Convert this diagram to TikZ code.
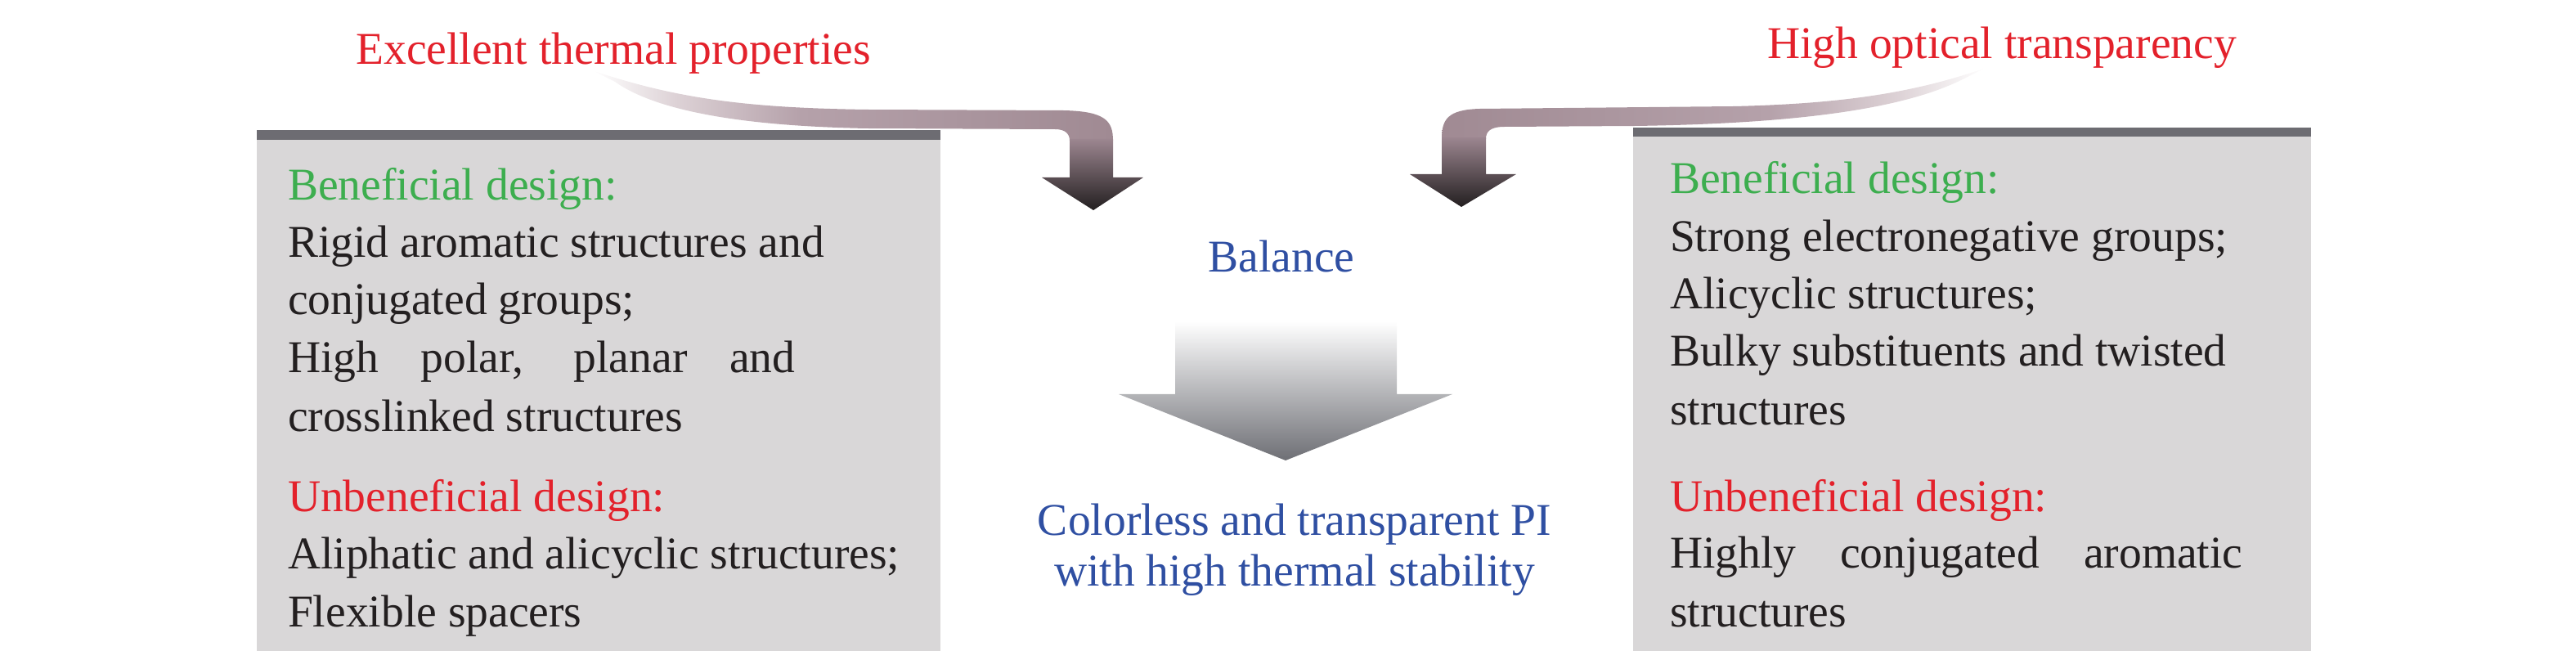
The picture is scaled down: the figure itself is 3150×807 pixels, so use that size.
\documentclass[tikz,border=0pt]{standalone}
\usepackage{fontspec}
\setmainfont{Liberation Serif}
\definecolor{tred}{HTML}{E3212B}
\definecolor{tgreen}{HTML}{3DAE4F}
\definecolor{tblue}{HTML}{2F4FA2}
\definecolor{tblack}{HTML}{231F20}
\definecolor{boxgray}{HTML}{D9D7D8}
\definecolor{bargray}{HTML}{6D6C72}
\definecolor{mauve}{HTML}{A08A93}
\definecolor{mauvemid}{HTML}{B5A1AA}
\definecolor{mauvelight}{HTML}{DDD2D6}
\definecolor{shafttop}{HTML}{9C8690}
\definecolor{shaftmid}{HTML}{4A4044}
\definecolor{arrowgraymid}{HTML}{BBBBBD}
\definecolor{arrowgraybot}{HTML}{6E6F75}
\pgfdeclarehorizontalshading{bandLshade}{100bp}{color(0bp)=(white); color(25bp)=(white);
  color(33bp)=(mauvelight); color(45bp)=(mauvemid); color(75bp)=(mauve); color(100bp)=(mauve)}
\pgfdeclarehorizontalshading{bandRshade}{100bp}{color(0bp)=(mauve); color(25bp)=(mauve);
  color(55bp)=(mauvemid); color(67bp)=(mauvelight); color(75bp)=(white); color(100bp)=(white)}
\begin{document}
\begin{tikzpicture}[x=0.01cm,y=-0.01cm,
  txt/.style={inner sep=0pt, outer sep=0pt, anchor=base west,
    font=\fontsize{15.8pt}{20pt}\selectfont, text=tblack},
  ctxt/.style={txt, anchor=base},
  boxbg/.style={fill=boxgray},
  boxbar/.style={fill=bargray},
  bandL/.style={shading=bandLshade},
  bandR/.style={shading=bandRshade},
  shaftshade/.style={top color=shafttop, middle color=shaftmid, bottom color=tblack},
  bigshade/.style={top color=white, middle color=arrowgraymid, bottom color=arrowgraybot}]
\useasboundingbox (0,0) rectangle (3150,807);

% boxes
\fill[boxbg] (314,170) rectangle (1150,796);
\fill[boxbar] (314,159) rectangle (1150,171);
\fill[boxbg] (1997,166) rectangle (2826,796);
\fill[boxbar] (1997,156) rectangle (2826,167);

% left curved arrow
\shade[bandL] (724,86) .. controls (830,122) and (920,132) .. (1060,134)
  -- (1300,135) .. controls (1352,136) and (1361,148) .. (1361,172)
  -- (1308,172) .. controls (1308,164) and (1303,158) .. (1290,158)
  -- (1060,157) .. controls (900,154) and (800,134) .. (752,100) -- cycle;
\shade[shaftshade] (1308,170) -- (1361,170) -- (1361,217) -- (1398,217)
  -- (1337,257) -- (1274,217) -- (1308,217) -- cycle;

% right curved arrow
\shade[bandR] (2428,83) .. controls (2340,114) and (2250,127) .. (2120,130)
  -- (1810,133) .. controls (1770,134) and (1763,146) .. (1763,170)
  -- (1817,170) .. controls (1817,161) and (1822,155) .. (1840,155)
  -- (2000,154) .. controls (2205,151) and (2330,132) .. (2400,97) -- cycle;
\shade[shaftshade] (1763,168) -- (1817,168) -- (1817,213) -- (1854,213)
  -- (1787,253) -- (1724,213) -- (1763,213) -- cycle;

% big gray arrow
\shade[bigshade] (1437,393) -- (1708,393) -- (1708,482) -- (1776,482)
  -- (1572,563) -- (1368,482) -- (1437,482) -- cycle;

% headers
\node[ctxt, text=tred] (h1) at (750,79) {Excellent thermal properties};
\node[txt, text=tred] (h2) at (2161,72) {High optical transparency};

% centre texts
\node[ctxt, text=tblue] (bal) at (1567,333) {Balance};
\node[ctxt, text=tblue] (res1) at (1583,655) {Colorless and transparent PI};
\node[ctxt, text=tblue] (res2) at (1583,717) {with high thermal stability};

% left box text
\node[txt, text=tgreen] (lb) at (352,245) {Beneficial design:};
\node[txt] (l1) at (352,315) {Rigid aromatic structures and};
\node[txt] (l2) at (352,385) {conjugated groups;};
\node[txt] (l3) at (352,456) {\makebox[6.2cm][s]{High polar, planar and}};
\node[txt] (l4) at (352,528) {crosslinked structures};
\node[txt, text=tred] (lu) at (352,626) {Unbeneficial design:};
\node[txt] (l5) at (352,696) {Aliphatic and alicyclic structures;};
\node[txt] (l6) at (352,767) {Flexible spacers};

% right box text
\node[txt, text=tgreen] (rb) at (2042,237) {Beneficial design:};
\node[txt] (r1) at (2042,308) {Strong electronegative groups;};
\node[txt] (r2) at (2042,378) {Alicyclic structures;};
\node[txt] (r3) at (2042,448) {Bulky substituents and twisted};
\node[txt] (r4) at (2042,520) {structures};
\node[txt, text=tred] (ru) at (2042,626) {Unbeneficial design:};
\node[txt] (r5) at (2042,695) {\makebox[7.0cm][s]{Highly conjugated aromatic}};
\node[txt] (r6) at (2042,767) {structures};
\end{tikzpicture}
\end{document}
